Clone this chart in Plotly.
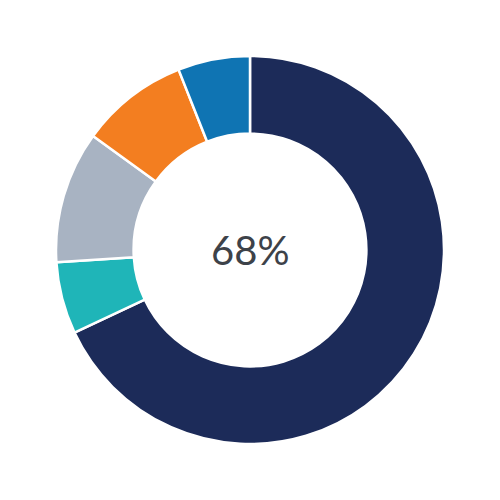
import plotly.graph_objects as go

labels = ['A', 'B', 'C', 'D', 'E']
values = [68, 6, 11, 9, 6]
colors = ['#1c2b59', '#1fb5b8', '#a8b3c2', '#f37e20', '#0f74b3']
center_text = '68%'

fig = go.Figure(go.Pie(labels=labels, values=values, hole=0.6, sort=False,
                       direction='clockwise', rotation=0, textinfo='none',
                       marker={'colors': colors, 'line': {'color': 'white', 'width': 2.5}},
                       hoverinfo='label+percent'))
fig.add_annotation(text=center_text, x=0.5, y=0.5, xref='paper', yref='paper', showarrow=False,
                   font={'family': 'Lato', 'size': 40, 'color': '#3d4249'})
fig.update_layout(width=500, height=500, showlegend=False,
                  margin={'l': 48, 'r': 64, 't': 48, 'b': 64},
                  paper_bgcolor='white', plot_bgcolor='white')
fig.write_html('out.html')
